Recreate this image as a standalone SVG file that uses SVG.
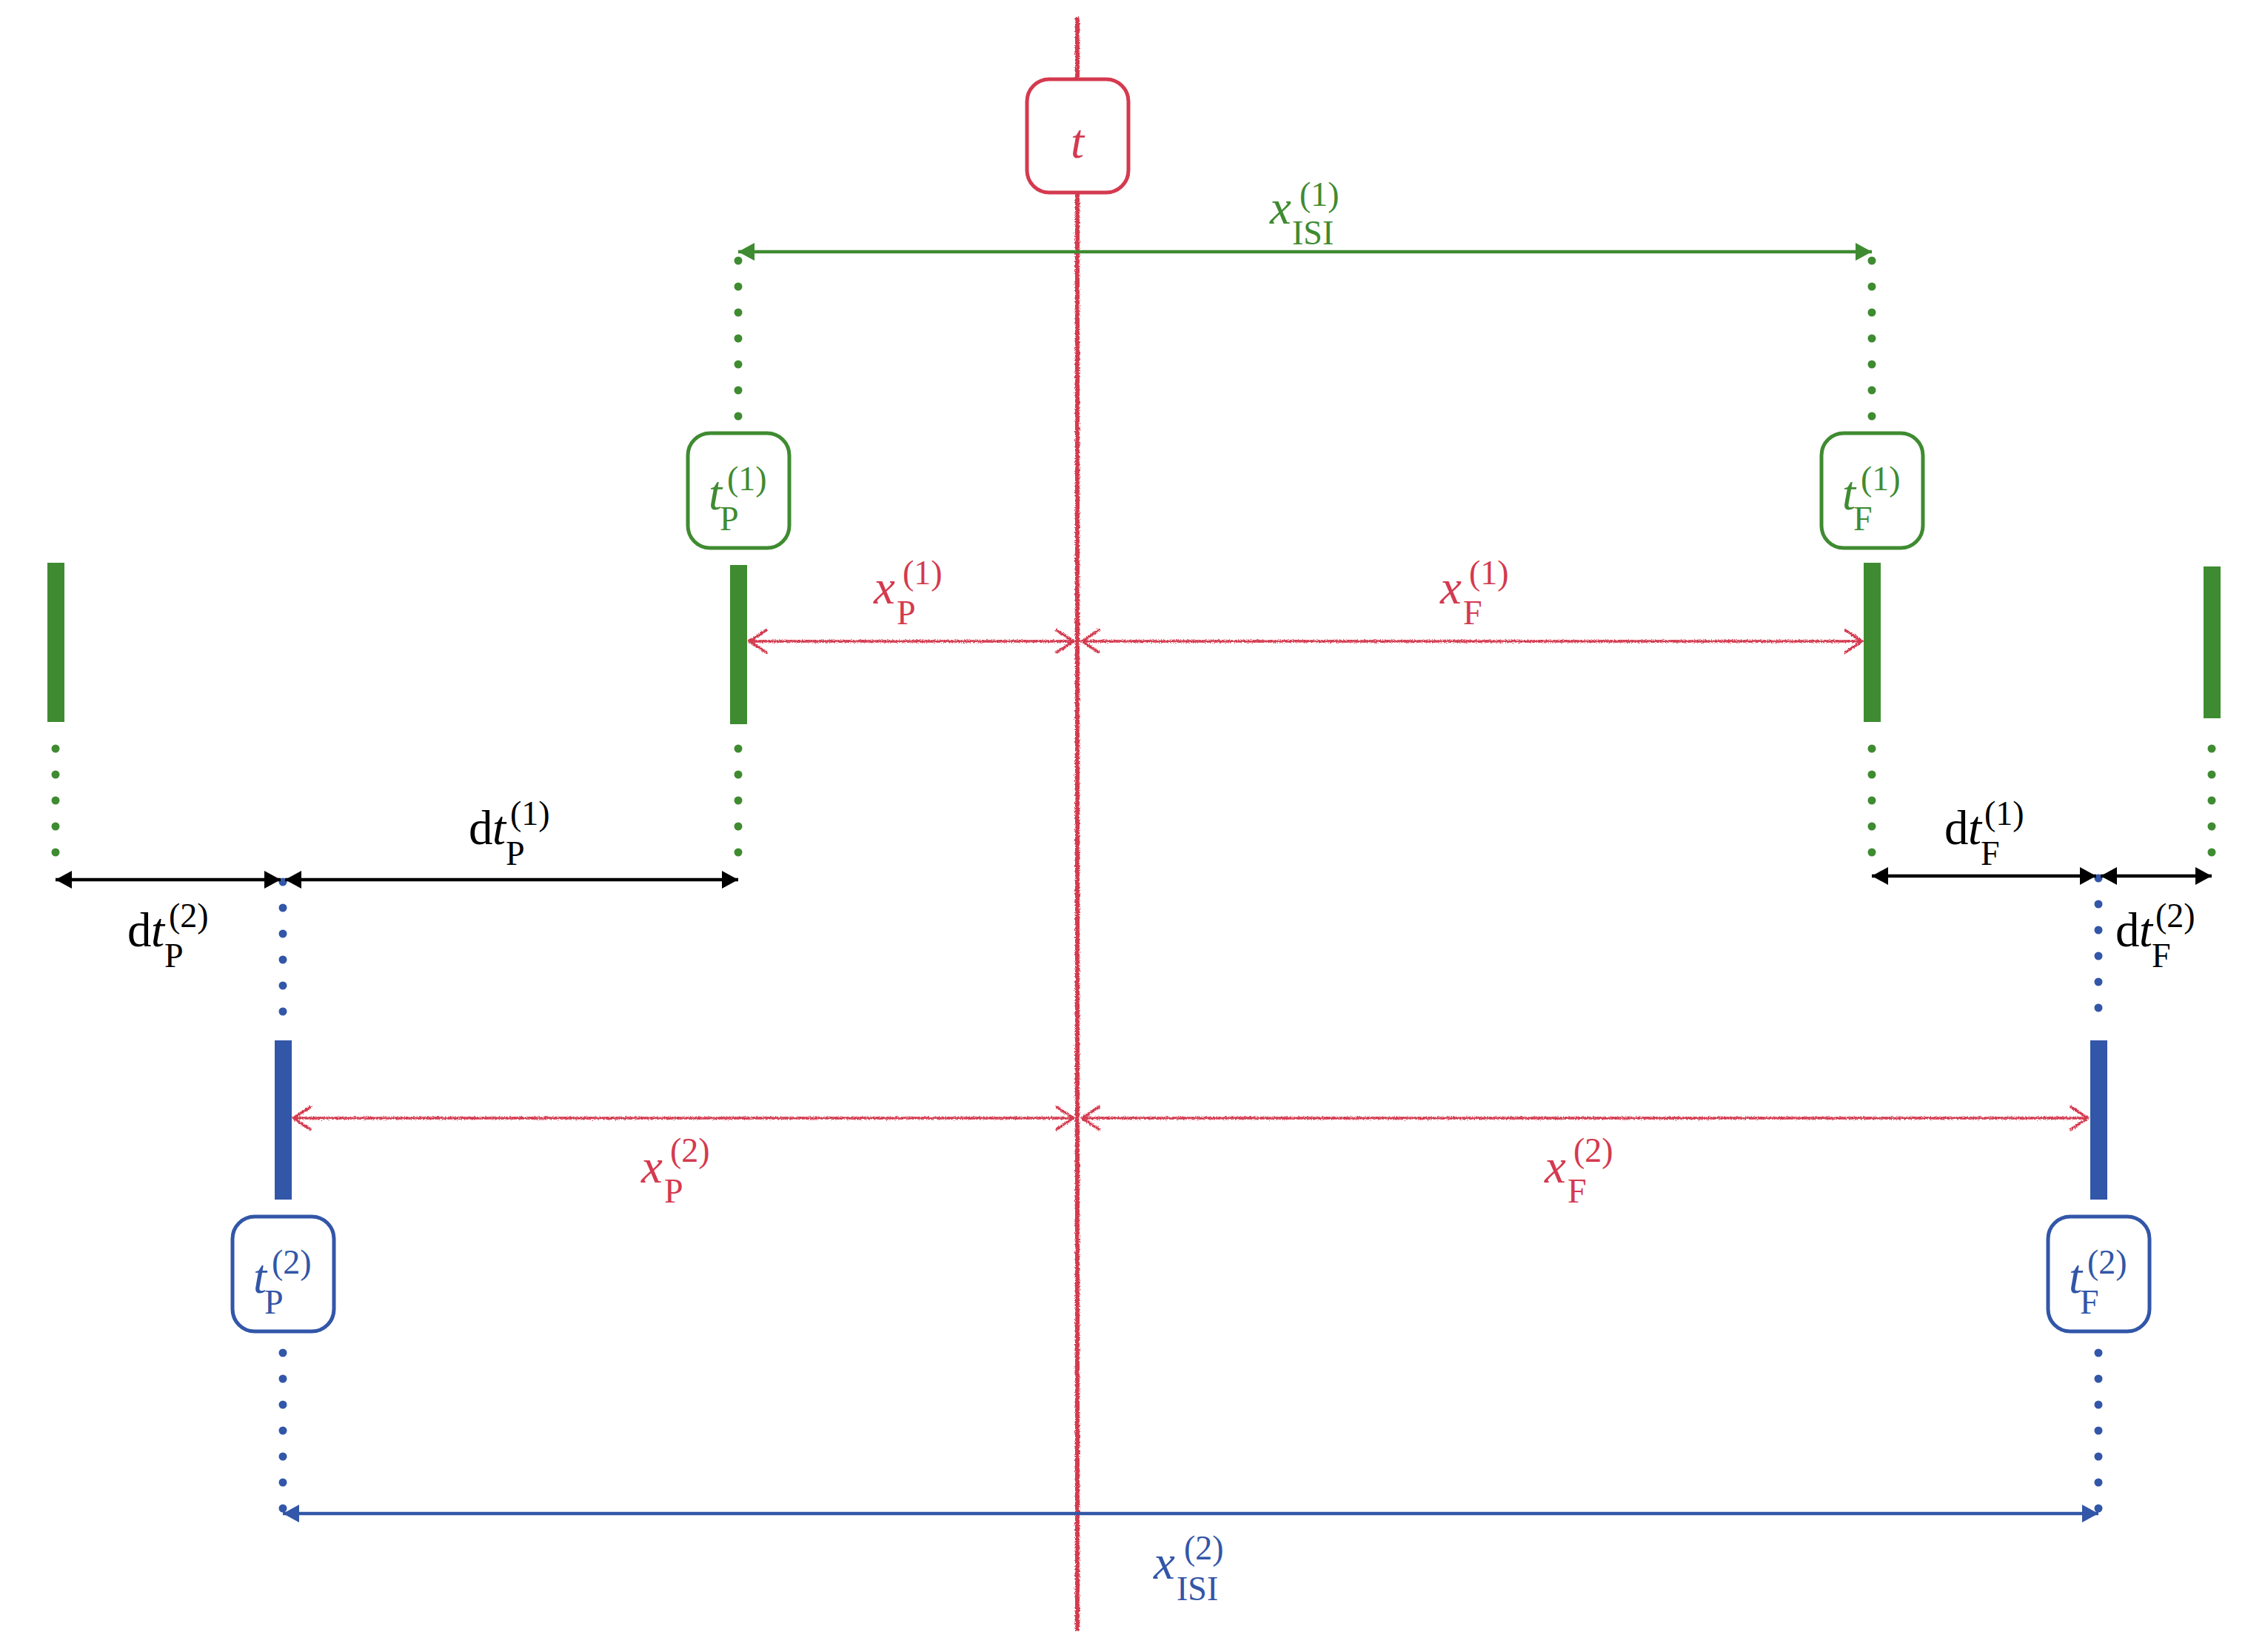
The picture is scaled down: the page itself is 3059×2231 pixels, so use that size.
<svg xmlns="http://www.w3.org/2000/svg" width="3059" height="2231" viewBox="0 0 3059 2231">
<style>
  .bg { fill: #ffffff; }
  text { font-family: "Liberation Serif", "Times New Roman", serif; }
  .m { font-size: 65px; }
  .s { font-size: 46px; }
  .it { font-style: italic; }
  .red { fill: #d43a4f; }
  .grn { fill: #3f8b31; }
  .blu { fill: #3256a8; }
  .blk { fill: #000000; }
  .boxR { fill: #ffffff; stroke: #d43a4f; stroke-width: 5; }
  .boxG { fill: #ffffff; stroke: #3f8b31; stroke-width: 5; }
  .boxB { fill: #ffffff; stroke: #3256a8; stroke-width: 5; }
  .barG { fill: #3f8b31; }
  .barB { fill: #3256a8; }
  .dotG { stroke: #3f8b31; stroke-width: 11; stroke-linecap: round; stroke-dasharray: 0 35; fill: none; }
  .dotB { stroke: #3256a8; stroke-width: 11; stroke-linecap: round; stroke-dasharray: 0 35; fill: none; }
  .axis { stroke: #d43a4f; stroke-width: 6; fill: none; }
  .rarr { stroke: #d43a4f; stroke-width: 3.5; fill: none; }
  .garr { stroke: #3f8b31; stroke-width: 4.5; fill: none; }
  .barr { stroke: #3256a8; stroke-width: 4.5; fill: none; }
  .karr { stroke: #000000; stroke-width: 4.5; fill: none; }
</style>
<defs>
  <filter id="rough" filterUnits="userSpaceOnUse" x="0" y="0" width="3059" height="2231">
    <feTurbulence type="fractalNoise" baseFrequency="0.7" numOctaves="2" seed="3" result="n"/>
    <feDisplacementMap in="SourceGraphic" in2="n" scale="5" xChannelSelector="R" yChannelSelector="G"/>
  </filter>
  <marker id="mG" viewBox="0 0 22 24" refX="22" refY="12" markerWidth="22" markerHeight="24" markerUnits="userSpaceOnUse" orient="auto-start-reverse">
    <path d="M0,0 L22,12 L0,24 Z" fill="#3f8b31"/>
  </marker>
  <marker id="mB" viewBox="0 0 22 24" refX="22" refY="12" markerWidth="22" markerHeight="24" markerUnits="userSpaceOnUse" orient="auto-start-reverse">
    <path d="M0,0 L22,12 L0,24 Z" fill="#3256a8"/>
  </marker>
  <marker id="mK" viewBox="0 0 22 24" refX="22" refY="12" markerWidth="22" markerHeight="24" markerUnits="userSpaceOnUse" orient="auto-start-reverse">
    <path d="M0,0 L22,12 L0,24 Z" fill="#000000"/>
  </marker>
  <marker id="mR" viewBox="-3 -3 30 38" refX="23" refY="15" markerWidth="30" markerHeight="38" markerUnits="userSpaceOnUse" orient="auto-start-reverse">
    <path d="M0,0 L23,15 L0,30" fill="none" stroke="#d43a4f" stroke-width="3.5" stroke-linecap="round" stroke-linejoin="round"/>
  </marker>
</defs>
<rect class="bg" x="0" y="0" width="3059" height="2231"/>

<g id="connectors">
  <line class="axis" x1="1455" y1="23" x2="1455" y2="2203" filter="url(#rough)"/>
  <line class="garr" x1="997" y1="340" x2="2528" y2="340" marker-start="url(#mG)" marker-end="url(#mG)"/>
  <line class="dotG" x1="997" y1="352" x2="997" y2="563"/>
  <line class="dotG" x1="2528" y1="352" x2="2528" y2="563"/>
  <line class="dotG" x1="75" y1="1011" x2="75" y2="1152"/>
  <line class="dotG" x1="997" y1="1011" x2="997" y2="1152"/>
  <line class="dotG" x1="2528" y1="1011" x2="2528" y2="1152"/>
  <line class="dotG" x1="2987" y1="1011" x2="2987" y2="1152"/>
  <line class="dotB" x1="382" y1="1191" x2="382" y2="1367"/>
  <line class="dotB" x1="2834" y1="1186" x2="2834" y2="1362"/>
  <line class="dotB" x1="382" y1="1827" x2="382" y2="2038"/>
  <line class="dotB" x1="2834" y1="1827" x2="2834" y2="2038"/>
  <g filter="url(#rough)">
    <line class="rarr" x1="1012" y1="866" x2="1450" y2="866" marker-start="url(#mR)" marker-end="url(#mR)"/>
    <line class="rarr" x1="1461" y1="866" x2="2515" y2="866" marker-start="url(#mR)" marker-end="url(#mR)"/>
    <line class="rarr" x1="396" y1="1510" x2="1450" y2="1510" marker-start="url(#mR)" marker-end="url(#mR)"/>
    <line class="rarr" x1="1461" y1="1510" x2="2820" y2="1510" marker-start="url(#mR)" marker-end="url(#mR)"/>
  </g>
  <line class="karr" x1="75" y1="1188" x2="379" y2="1188" marker-start="url(#mK)" marker-end="url(#mK)"/>
  <line class="karr" x1="385" y1="1188" x2="997" y2="1188" marker-start="url(#mK)" marker-end="url(#mK)"/>
  <line class="karr" x1="2528" y1="1183" x2="2831" y2="1183" marker-start="url(#mK)" marker-end="url(#mK)"/>
  <line class="karr" x1="2837" y1="1183" x2="2987" y2="1183" marker-start="url(#mK)" marker-end="url(#mK)"/>
  <line class="barr" x1="382" y1="2044" x2="2834" y2="2044" marker-start="url(#mB)" marker-end="url(#mB)"/>
</g>

<g id="node-t">
  <rect class="boxR" x="1387" y="107" width="137" height="153" rx="30"/>
  <text class="m it red" x="1455" y="213" text-anchor="middle">t</text>
</g>

<g id="node-tP1">
  <rect class="boxG" x="929" y="585" width="137" height="155" rx="30"/>
  <text class="grn"><tspan class="m it" x="957" y="688">t</tspan><tspan class="s" x="982" y="662">(1)</tspan><tspan class="s" x="972" y="716">P</tspan></text>
</g>
<g id="node-tF1">
  <rect class="boxG" x="2460" y="585" width="137" height="155" rx="30"/>
  <text class="grn"><tspan class="m it" x="2488" y="688">t</tspan><tspan class="s" x="2513" y="662">(1)</tspan><tspan class="s" x="2503" y="716">F</tspan></text>
</g>
<g id="node-tP2">
  <rect class="boxB" x="314" y="1643" width="137" height="155" rx="30"/>
  <text class="blu"><tspan class="m it" x="342" y="1746">t</tspan><tspan class="s" x="367" y="1720">(2)</tspan><tspan class="s" x="357" y="1774">P</tspan></text>
</g>
<g id="node-tF2">
  <rect class="boxB" x="2766" y="1643" width="137" height="155" rx="30"/>
  <text class="blu"><tspan class="m it" x="2794" y="1746">t</tspan><tspan class="s" x="2819" y="1720">(2)</tspan><tspan class="s" x="2809" y="1774">F</tspan></text>
</g>

<g id="bar-left-outer"><rect class="barG" x="64" y="760" width="23" height="215"/></g>
<g id="bar-P1"><rect class="barG" x="986" y="763" width="23" height="215"/></g>
<g id="bar-F1"><rect class="barG" x="2517" y="760" width="23" height="215"/></g>
<g id="bar-right-outer"><rect class="barG" x="2976" y="765" width="23" height="205"/></g>
<g id="bar-P2"><rect class="barB" x="371" y="1405" width="23" height="215"/></g>
<g id="bar-F2"><rect class="barB" x="2823" y="1405" width="23" height="215"/></g>

<g id="labels">
  <text class="grn"><tspan class="m it" x="1715" y="302">x</tspan><tspan class="s" x="1755" y="278">(1)</tspan><tspan class="s" x="1745" y="330">ISI</tspan></text>
  <text class="red"><tspan class="m it" x="1180" y="815">x</tspan><tspan class="s" x="1219" y="789">(1)</tspan><tspan class="s" x="1211" y="843">P</tspan></text>
  <text class="red"><tspan class="m it" x="1945" y="815">x</tspan><tspan class="s" x="1984" y="789">(1)</tspan><tspan class="s" x="1976" y="843">F</tspan></text>
  <text class="blk"><tspan class="m" x="633" y="1140">d</tspan><tspan class="m it" x="665" y="1140">t</tspan><tspan class="s" x="689" y="1114">(1)</tspan><tspan class="s" x="683" y="1168">P</tspan></text>
  <text class="blk"><tspan class="m" x="172" y="1278">d</tspan><tspan class="m it" x="204" y="1278">t</tspan><tspan class="s" x="228" y="1252">(2)</tspan><tspan class="s" x="222" y="1306">P</tspan></text>
  <text class="blk"><tspan class="m" x="2626" y="1140">d</tspan><tspan class="m it" x="2658" y="1140">t</tspan><tspan class="s" x="2680" y="1114">(1)</tspan><tspan class="s" x="2675" y="1168">F</tspan></text>
  <text class="blk"><tspan class="m" x="2857" y="1278">d</tspan><tspan class="m it" x="2889" y="1278">t</tspan><tspan class="s" x="2911" y="1252">(2)</tspan><tspan class="s" x="2906" y="1306">F</tspan></text>
  <text class="red"><tspan class="m it" x="866" y="1597">x</tspan><tspan class="s" x="905" y="1569">(2)</tspan><tspan class="s" x="897" y="1624">P</tspan></text>
  <text class="red"><tspan class="m it" x="2086" y="1597">x</tspan><tspan class="s" x="2125" y="1569">(2)</tspan><tspan class="s" x="2117" y="1624">F</tspan></text>
  <text class="blu"><tspan class="m it" x="1558" y="2132">x</tspan><tspan class="s" x="1599" y="2106">(2)</tspan><tspan class="s" x="1589" y="2161">ISI</tspan></text>
</g>
</svg>
